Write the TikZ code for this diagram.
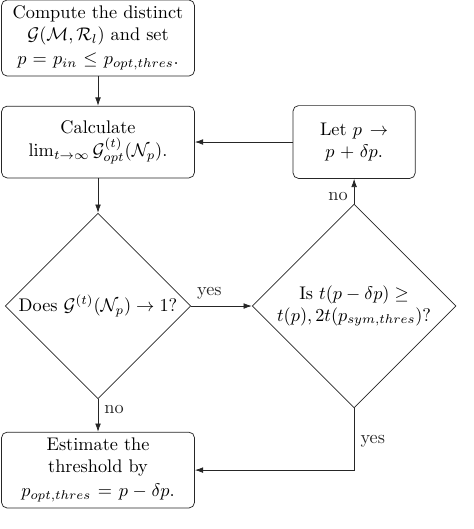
\documentclass[tikz,border=0pt]{standalone}
\usepackage{amsmath,amssymb}
\usetikzlibrary{positioning,arrows.meta,calc,shapes.geometric}
\tikzset{
  box/.style={draw=black!85, rounded corners=3pt, align=center, minimum height=13.8mm, text width=34mm, minimum width=37.1mm},
  small/.style={box, text width=21mm, minimum width=23.5mm, minimum height=14mm},
  ask/.style={draw=black!85, diamond, aspect=1, align=center, inner sep=0pt},
  arr/.style={-{Latex[length=1.6mm, width=1.1mm]}, black!85}}
\begin{document}
\begin{tikzpicture}
\useasboundingbox (0,0) rectangle (9.115,-10.173);
\node[box] (init) at (1.885,-0.731) {Compute the distinct\\ $\mathcal{G}(\mathcal{M},\mathcal{R}_l)$ and set\\[1pt] $p=p_{in}\leq p_{opt,thres}$.};
\node[box] (calc) at (1.885,-2.731) {Calculate\\[1pt] $\lim_{t\to\infty}\mathcal{G}^{(t)}_{opt}(\mathcal{N}_p)$.};
\node[small] (step) at (6.81,-2.731) {Let $p\to$\\ $p+\delta p$.};
\node[ask, minimum size=3.57cm] (conv) at (1.885,-5.885) {Does $\mathcal{G}^{(t)}(\mathcal{N}_p)\to 1$?};
\node[ask, minimum size=3.92cm] (test) at (6.81,-5.885) {Is $t(p-\delta p)\geq$\\ $t(p), 2t(p_{sym,thres})$?};
\node[box] (est) at (1.885,-9.04) {Estimate the\\ threshold by\\[1pt] $p_{opt,thres}=p-\delta p$.};
\draw[arr] (init) -- (calc);
\draw[arr] (calc) -- (conv);
\draw[arr] (conv) -- node[above, pos=0.3] {yes} (test);
\draw[arr] (conv) -- node[right, pos=0.3] {no} (est);
\draw[arr] (test) -- node[left, pos=0.3] {no} (step);
\draw[arr] (step) -- (calc);
\draw[arr] (test.south) |- node[right, pos=0.27] {yes} (est.east);
\end{tikzpicture}
\end{document}
